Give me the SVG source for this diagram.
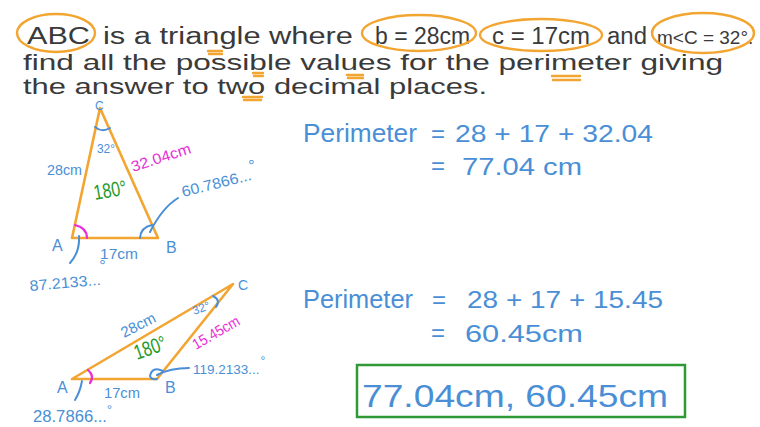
<svg xmlns="http://www.w3.org/2000/svg" width="760" height="427" viewBox="0 0 760 427">
<style>
.q{font-family:"Liberation Sans",Arial,sans-serif;font-size:23px;fill:#3a3a3a}
.q2{font-family:"Liberation Sans",Arial,sans-serif;font-size:22px;fill:#3a3a3a}
.b{font-family:"Liberation Sans",Arial,sans-serif;fill:#4a8fd6}
.m{font-family:"Liberation Sans",Arial,sans-serif;fill:#e82fd6}
.g{font-family:"Liberation Sans",Arial,sans-serif;fill:#1e9a2a}
.o{fill:none;stroke:#f2a530;stroke-width:2.4;stroke-linecap:round}
.tri{fill:none;stroke:#f2a530;stroke-width:2.6;stroke-linejoin:round}
.bl{fill:none;stroke:#4a8fd6;stroke-width:2;stroke-linecap:round}
.ml{fill:none;stroke:#e82fd6;stroke-width:2.2;stroke-linecap:round}
</style>
<rect width="760" height="427" fill="#ffffff"/>

<g id="question">
<text class="q" x="27" y="44" textLength="63" lengthAdjust="spacingAndGlyphs">ABC</text>
<text class="q" x="103" y="44" textLength="250" lengthAdjust="spacingAndGlyphs">is a triangle where</text>
<text class="q" x="375" y="44" textLength="95" lengthAdjust="spacingAndGlyphs">b = 28cm</text>
<text class="q" x="492" y="44" textLength="98" lengthAdjust="spacingAndGlyphs">c = 17cm</text>
<text class="q" x="607" y="44" textLength="40" lengthAdjust="spacingAndGlyphs">and</text>
<text class="q" x="657" y="44" style="font-size:19px">m&lt;C = 32°.</text>
<text class="q2" x="23" y="70" textLength="700" lengthAdjust="spacingAndGlyphs">find all the possible values for the perimeter giving</text>
<text class="q2" x="23" y="94" textLength="464" lengthAdjust="spacingAndGlyphs">the answer to two decimal places.</text>
<ellipse class="o" cx="56" cy="33" rx="39" ry="19"/>
<ellipse class="o" cx="419" cy="33" rx="57" ry="18"/>
<ellipse class="o" cx="541" cy="35" rx="61" ry="16"/>
<ellipse class="o" cx="703" cy="33" rx="51" ry="20"/>
<path class="o" d="M208 51h14M209 54h13M253 73h10M254 76h9M347 75h16M348 78h15M243 97h19M244 100h17M552 76h28M553 80h27"/>
</g>

<g id="triangle1">
<path class="tri" d="M100 108L72 238L158 238Z"/>
<path class="bl" d="M95 127Q102 133 110 128"/>
<path class="ml" d="M75 225Q87 228 87 238"/>
<path class="bl" d="M140 238Q141 227 152 225"/>
<path class="bl" d="M150 232Q162 208 178 198"/>
<path class="bl" d="M79 236Q80 252 70 263"/>
<text class="b" x="95" y="110" font-size="12">C</text>
<text class="b" x="97" y="153" font-size="12" textLength="18" lengthAdjust="spacingAndGlyphs">32°</text>
<text class="b" x="47" y="175" font-size="15" textLength="35" lengthAdjust="spacingAndGlyphs">28cm</text>
<text class="m" x="133" y="172" font-size="15" textLength="62" lengthAdjust="spacingAndGlyphs" transform="rotate(-18 133 172)">32.04cm</text>
<text class="g" x="95" y="200" font-size="21" textLength="33" lengthAdjust="spacingAndGlyphs" transform="rotate(-10 95 200)">180°</text>
<text class="b" x="183" y="197" font-size="15" textLength="78" lengthAdjust="spacingAndGlyphs" transform="rotate(-14 183 197)">60.7866...<tspan dy="-9">°</tspan></text>
<text class="b" x="52" y="251" font-size="16">A</text>
<text class="b" x="166" y="253" font-size="16">B</text>
<text class="b" x="100" y="259" font-size="15" textLength="38" lengthAdjust="spacingAndGlyphs">17cm</text>
<text class="b" x="30" y="291" font-size="15" textLength="78" lengthAdjust="spacingAndGlyphs" transform="rotate(-5 30 291)">87.2133...<tspan dy="-14">°</tspan></text>
</g>

<g id="triangle2">
<path class="tri" d="M233 284L72 379L157 379Z"/>
<path class="bl" d="M213 296Q221 300 216 307"/>
<path class="ml" d="M88 370Q95 376 90 383"/>
<path class="bl" d="M163 371Q152 366 150 376Q151 380 157 379"/>
<path class="bl" d="M157 375Q170 368 189 368"/>
<path class="bl" d="M82 381Q80 392 75 400"/>
<text class="b" x="238" y="290" font-size="14">C</text>
<text class="b" x="194" y="315" font-size="12" textLength="18" lengthAdjust="spacingAndGlyphs" transform="rotate(-20 194 315)">32°</text>
<text class="b" x="124" y="338" font-size="15" textLength="37" lengthAdjust="spacingAndGlyphs" transform="rotate(-27 124 338)">28cm</text>
<text class="m" x="196" y="350" font-size="15" textLength="52" lengthAdjust="spacingAndGlyphs" transform="rotate(-30 196 350)">15.45cm</text>
<text class="g" x="137" y="360" font-size="21" textLength="33" lengthAdjust="spacingAndGlyphs" transform="rotate(-20 137 360)">180°</text>
<text class="b" x="193" y="374" font-size="13.5">119.2133...<tspan font-size="12" dx="1" dy="-9">°</tspan></text>
<text class="b" x="57" y="393" font-size="16">A</text>
<text class="b" x="165" y="393" font-size="16">B</text>
<text class="b" x="104" y="398" font-size="15" textLength="36" lengthAdjust="spacingAndGlyphs">17cm</text>
<text class="b" x="33" y="422" font-size="16" textLength="79" lengthAdjust="spacingAndGlyphs">28.7866...<tspan font-size="12" dy="-8">°</tspan></text>
</g>

<g id="calc1">
<text class="b" x="303" y="142" font-size="25" textLength="114" lengthAdjust="spacingAndGlyphs">Perimeter</text>
<text class="b" x="431" y="142" font-size="24">=</text>
<text class="b" x="455" y="142" font-size="24" textLength="198" lengthAdjust="spacingAndGlyphs">28 + 17 + 32.04</text>
<text class="b" x="431" y="174" font-size="24">=</text>
<text class="b" x="462" y="175" font-size="24" textLength="120" lengthAdjust="spacingAndGlyphs">77.04 cm</text>
</g>

<g id="calc2">
<text class="b" x="303" y="308" font-size="25" textLength="110" lengthAdjust="spacingAndGlyphs">Perimeter</text>
<text class="b" x="432" y="308" font-size="24">=</text>
<text class="b" x="467" y="308" font-size="24" textLength="196" lengthAdjust="spacingAndGlyphs">28 + 17 + 15.45</text>
<text class="b" x="431" y="341" font-size="24">=</text>
<text class="b" x="465" y="342" font-size="24" textLength="118" lengthAdjust="spacingAndGlyphs">60.45cm</text>
</g>

<g id="answer">
<rect x="357" y="365" width="328" height="52" fill="none" stroke="#2f9a35" stroke-width="2.5"/>
<text class="b" x="362" y="407" font-size="31" textLength="306" lengthAdjust="spacingAndGlyphs">77.04cm, 60.45cm</text>
</g>
</svg>
